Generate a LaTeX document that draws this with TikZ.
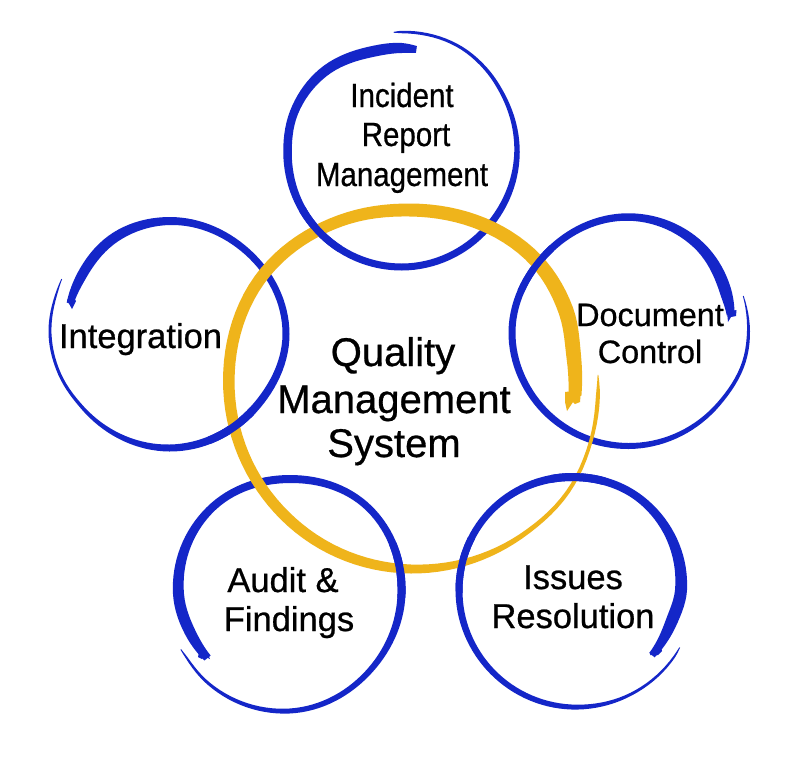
\documentclass[tikz,border=0pt]{standalone}
\usepackage{fontspec}
\setmainfont[FakeBold=0.7]{Liberation Sans}
\definecolor{qmblue}{RGB}{20,38,200}
\definecolor{qmgold}{RGB}{239,180,27}
\newcommand\bsAdd[3]{%
  \pgfmathsetmacro\xo{\bsCx+(#2+#3/2)*cos(#1)}%
  \pgfmathsetmacro\yo{\bsCy-(#2+#3/2)*sin(#1)}%
  \pgfmathsetmacro\xi{\bsCx+(#2-#3/2)*cos(#1)}%
  \pgfmathsetmacro\yi{\bsCy-(#2-#3/2)*sin(#1)}%
  \xdef\bsOuter{\bsOuter (\xo,\yo)}%
  \xdef\bsInner{(\xi,\yi) \bsInner}%
}
% cubic Hermite interpolation of radius and width between the knots
\newcommand\brushstroke[4]{%
  \gdef\bsOuter{}\gdef\bsInner{}\gdef\bsCx{#1}\gdef\bsCy{#2}%
  \gdef\bsT{}\gdef\bsR{}\gdef\bsW{}\gdef\bsSep{}\gdef\bsN{0}%
  \foreach \tth/\rr/\ww in {#4}{%
    \xdef\bsT{\bsT\bsSep\tth}\xdef\bsR{\bsR\bsSep\rr}\xdef\bsW{\bsW\bsSep\ww}\gdef\bsSep{,}%
    \pgfmathtruncatemacro\nn{\bsN+1}\xdef\bsN{\nn}%
  }%
  \pgfmathsetmacro\va{{\bsR}[0]}\pgfmathsetmacro\vb{{\bsW}[0]}\pgfmathsetmacro\vc{{\bsT}[0]}%
  \bsAdd{\vc}{\va}{\vb}%
  \pgfmathtruncatemacro\lastseg{\bsN-1}%
  \foreach \ii in {1,...,\lastseg}{%
    \pgfmathtruncatemacro\ia{\ii-1}%
    \pgfmathtruncatemacro\ib{max(\ii-2,0)}%
    \pgfmathtruncatemacro\ic{min(\ii+1,\bsN-1)}%
    \pgfmathsetmacro\ta{{\bsT}[\ia]}\pgfmathsetmacro\tb{{\bsT}[\ii]}%
    \pgfmathsetmacro\tm{{\bsT}[\ib]}\pgfmathsetmacro\tp{{\bsT}[\ic]}%
    \pgfmathsetmacro\ra{{\bsR}[\ia]}\pgfmathsetmacro\rb{{\bsR}[\ii]}%
    \pgfmathsetmacro\rm{{\bsR}[\ib]}\pgfmathsetmacro\rp{{\bsR}[\ic]}%
    \pgfmathsetmacro\wa{{\bsW}[\ia]}\pgfmathsetmacro\wb{{\bsW}[\ii]}%
    \pgfmathsetmacro\wm{{\bsW}[\ib]}\pgfmathsetmacro\wp{{\bsW}[\ic]}%
    \pgfmathsetmacro\hh{\tb-\ta}%
    \pgfmathsetmacro\mra{\hh*(\rb-\rm)/(\tb-\tm)}\pgfmathsetmacro\mrb{\hh*(\rp-\ra)/(\tp-\ta)}%
    \pgfmathsetmacro\mwa{\hh*(\wb-\wm)/(\tb-\tm)}\pgfmathsetmacro\mwb{\hh*(\wp-\wa)/(\tp-\ta)}%
    \pgfmathtruncatemacro\nsub{max(1,ceil(abs(\hh)/3))}%
    \foreach \jj in {1,...,\nsub}{%
      \pgfmathsetmacro\uu{\jj/\nsub}%
      \pgfmathsetmacro\hA{2*\uu^3-3*\uu^2+1}%
      \pgfmathsetmacro\hB{\uu^3-2*\uu^2+\uu}%
      \pgfmathsetmacro\hC{-2*\uu^3+3*\uu^2}%
      \pgfmathsetmacro\hD{\uu^3-\uu^2}%
      \pgfmathsetmacro\nth{\ta+\hh*\uu}%
      \pgfmathsetmacro\nr{\hA*\ra+\hB*\mra+\hC*\rb+\hD*\mrb}%
      \pgfmathsetmacro\nw{\hA*\wa+\hB*\mwa+\hC*\wb+\hD*\mwb}%
      \bsAdd{\nth}{\nr}{\nw}%
    }%
  }%
  \edef\bsDo{\noexpand\fill[#3] plot coordinates {\bsOuter} -- plot coordinates {\bsInner} -- cycle;}%
  \bsDo
}
\newcommand\strokeTop{\brushstroke{402}{152}{bluestroke}{82/103.5/7,90/104/10,108/105/11,135/112/10,160/115/8.5,180/114.5/8.5,214/115/7.5,270/115/7,321/114/7,360/115/5.5,389/116/4,405/118/3.5,423/120/3,450/120/2.5,454/120/.8}}
\newcommand\strokeDoc{\brushstroke{628.5}{331}{bluestroke}{9/103.5/8,23/105/12,52/111/10,90/114/7.5,139/113/7,180/116.5/7,215/116/7,270/115/6,321/116/4,345/119.5/3.5,360/120/3,377/120/.8}\fill[bluestroke] (727,312)--(736.5,310)--(736,316)--(731,317)--(728,322)--cycle;}
\newcommand\strokeInt{\brushstroke{169.5}{334}{bluestroke}{163/104/7,146/105.5/10,119/111/10,90/113/8,49.5/113/7,0/116.5/7,-39/113/8,-90/114/7,-139.5/114/3.5,-160/117/3,-180/119.5/3,-199/120/2,-207/121/.8}\fill[bluestroke] (67,300)--(72,309)--(76,301)--(72,295)--cycle;}
\newcommand\strokeAud{\brushstroke{289.5}{594}{bluestroke}{218/104/8,201/106.5/11,180/111/11,131/116/8,90/115/8,50/117/7,0/112/8,-43/111/6,-90/117/5,-132/120.7/3,-148/121/2,-153/122/.8}\fill[bluestroke] (198,657)--(202,659)--(204,656)--(210,659)--(206,650)--(199,652)--cycle;}
\newcommand\strokeIss{\brushstroke{571.5}{590}{bluestroke}{-39/103.5/7,-17/105/12,0/109.5/12,52/114/8,90/113/8,133/113/7,180/112.5/7,223/113.6/6,270/117/5,300/120/3,327/122.5/2,332/122.5/.8}\fill[bluestroke] (650,655)--(658,655)--(662,651)--(660,645)--(652,650)--cycle;}
\newcommand\strokeBig{\brushstroke{411}{390}{goldstroke}{-2/164/13,6/165/14,14/167/15,27/174/15.5,49/180.5/14,90/180/13,110/183/12,135/187/12,150/187/12,180/182/11.5,207/179/11,231/178/11,270/179/9,307/183/5,327/187/4,344/187/3.5,358/187/4,364.6/187.6/.8}\fill[goldstroke] (565,392)--(565,402)--(567,411)--(573,402)--(575,404)--(580,402)--(581,390)--cycle;}
\tikzset{
  bluestroke/.style={fill=qmblue},
  goldstroke/.style={fill=qmgold},
  lbl/.style={anchor=base,inner sep=0pt,text=black,font=\fontsize{34.5}{40}\selectfont},
  toplbl/.style={lbl,font=\fontsize{33.5}{40}\selectfont,xscale=.88},
  doclbl/.style={lbl,font=\fontsize{32.4}{38}\selectfont},
  mainlbl/.style={lbl,font=\fontsize{40}{46}\selectfont}
}
\begin{document}
\begin{tikzpicture}[x=1pt,y=-1pt]
\useasboundingbox (0,0) rectangle (800,777);
\fill[white] (0,0) rectangle (800,777);
\strokeTop \strokeDoc \strokeInt \strokeAud \strokeIss
\strokeBig
% crossings where the blue ring lies over the gold one
\begin{scope}\clip (318,232) circle (28); \strokeTop\end{scope}
\begin{scope}\clip (530,265) circle (28); \strokeDoc\end{scope}
\begin{scope}\clip (578,473) circle (28); \strokeIss\end{scope}
\begin{scope}\clip (465,565) circle (28); \strokeIss\end{scope}
\begin{scope}\clip (400,570) circle (28); \strokeAud\end{scope}
\begin{scope}\clip (235,430) circle (28); \strokeInt\end{scope}
\node[toplbl] (t1) at (402,107) {Incident};
\node[toplbl] (t2) at (406,146) {Report};
\node[toplbl] (t3) at (402,186) {Management};
\node[doclbl] (d1) at (650,326) {Document};
\node[doclbl] (d2) at (650,363) {Control};
\node[lbl] (i1) at (140.5,348) {Integration};
\node[lbl] (a1) at (283,592) {Audit \&};
\node[lbl] (a2) at (289,631) {Findings};
\node[lbl] (s1) at (573,589) {Issues};
\node[lbl] (s2) at (573,628) {Resolution};
\node[mainlbl] (m1) at (393,366) {Quality};
\node[mainlbl] (m2) at (394,413) {Management};
\node[mainlbl] (m3) at (394,457) {System};
\end{tikzpicture}
\end{document}
